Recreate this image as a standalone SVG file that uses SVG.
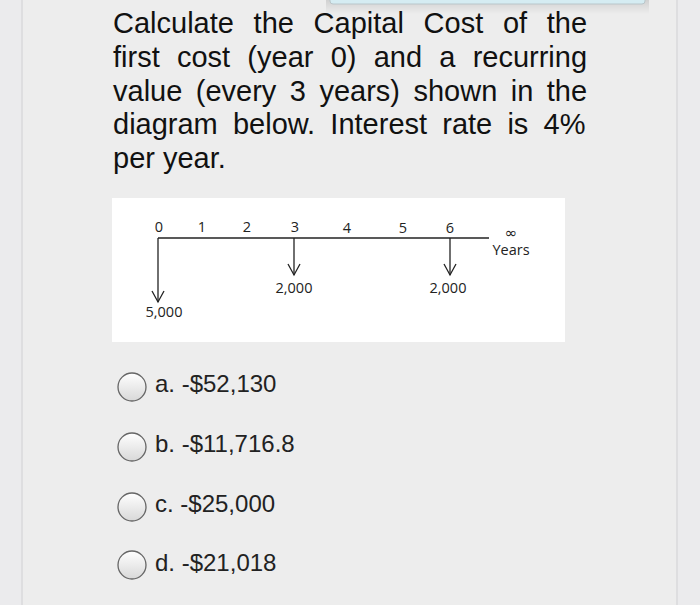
<svg xmlns="http://www.w3.org/2000/svg" width="700" height="605" viewBox="0 0 700 605">
<defs>
<style>
.q{font-family:"Liberation Sans",Arial,sans-serif;font-size:29px;fill:#111}
.d{font-family:"Open Sans","DejaVu Sans",sans-serif;font-size:14.5px;fill:#222}
.inf{font-family:"DejaVu Sans",sans-serif;font-size:15px;fill:#222}
.o{font-family:"Liberation Sans",Arial,sans-serif;font-size:24px;fill:#222}
.ax{stroke:#222;stroke-width:1.3;fill:none}
.radio{fill:url(#rg);stroke:#666;stroke-width:1.3}
</style>
<linearGradient id="rg" x1="0" y1="0" x2="0" y2="1">
<stop offset="0" stop-color="#ffffff"/>
<stop offset="1" stop-color="#d8d8d8"/>
</linearGradient>
<linearGradient id="sh" x1="0" y1="0" x2="0" y2="1">
<stop offset="0" stop-color="#000" stop-opacity="0.12"/>
<stop offset="1" stop-color="#000" stop-opacity="0"/>
</linearGradient>
<marker id="ah" markerWidth="14" markerHeight="14" refX="12" refY="7" orient="auto" markerUnits="userSpaceOnUse" viewBox="0 0 14 14">
<path d="M1,1 L12,7 L1,13" fill="none" stroke="#222" stroke-width="1.3"/>
</marker>
</defs>
<rect x="0" y="0" width="700" height="605" fill="#ededed"/>
<rect x="0" y="0" width="22" height="605" fill="#ebebed"/>
<rect x="21" y="0" width="2" height="605" fill="#dedee0"/>
<rect x="677" y="0" width="23" height="605" fill="#ebebed"/>
<rect x="676" y="0" width="2" height="605" fill="#dedee0"/>
<g id="topbox">
<rect x="326" y="0" width="323" height="14" fill="url(#sh)"/>
<rect x="330" y="-6" width="315" height="10" rx="3" fill="#d5ecf2" stroke="#b9c6ca" stroke-width="1"/>
</g>
<g id="question">
<text class="q" x="113" y="33" word-spacing="11.64">Calculate the Capital Cost of the</text>
<text class="q" x="113" y="67" word-spacing="9.17">first cost (year 0) and a recurring</text>
<text class="q" x="113" y="100.5" word-spacing="5.4">value (every 3 years) shown in the</text>
<text class="q" x="113" y="134" word-spacing="7.12">diagram below. Interest rate is 4%</text>
<text class="q" x="113" y="167.5">per year.</text>
</g>
<g id="diagram">
<rect x="112" y="198" width="453" height="144" fill="#ffffff"/>
<g id="connectors">
<line class="ax" x1="158" y1="238" x2="489" y2="238"/>
<line class="ax" x1="158" y1="238" x2="158" y2="302" marker-end="url(#ah)"/>
<line class="ax" x1="294" y1="238" x2="294" y2="275" marker-end="url(#ah)"/>
<line class="ax" x1="450" y1="238" x2="450" y2="275" marker-end="url(#ah)"/>
</g>
<g id="ticks" text-anchor="middle">
<text class="d" x="159" y="232">0</text>
<text class="d" x="202" y="232">1</text>
<text class="d" x="247" y="232">2</text>
<text class="d" x="295" y="232">3</text>
<text class="d" x="347" y="233">4</text>
<text class="d" x="403" y="233">5</text>
<text class="d" x="450" y="233">6</text>
<text class="inf" x="511" y="238">∞</text>
<text class="d" x="511" y="255">Years</text>
</g>
<g id="amounts" text-anchor="middle">
<text class="d" x="164" y="317">5,000</text>
<text class="d" x="294" y="293">2,000</text>
<text class="d" x="448" y="293">2,000</text>
</g>
</g>
<g id="opt-a">
<circle class="radio" cx="132" cy="387" r="14"/>
<text class="o" x="155" y="392">a. -$52,130</text>
</g>
<g id="opt-b">
<circle class="radio" cx="132" cy="447" r="14"/>
<text class="o" x="155" y="452">b. -$11,716.8</text>
</g>
<g id="opt-c">
<circle class="radio" cx="132" cy="507" r="14"/>
<text class="o" x="155" y="512">c. -$25,000</text>
</g>
<g id="opt-d">
<circle class="radio" cx="132" cy="565" r="14"/>
<text class="o" x="155" y="571">d. -$21,018</text>
</g>
</svg>
